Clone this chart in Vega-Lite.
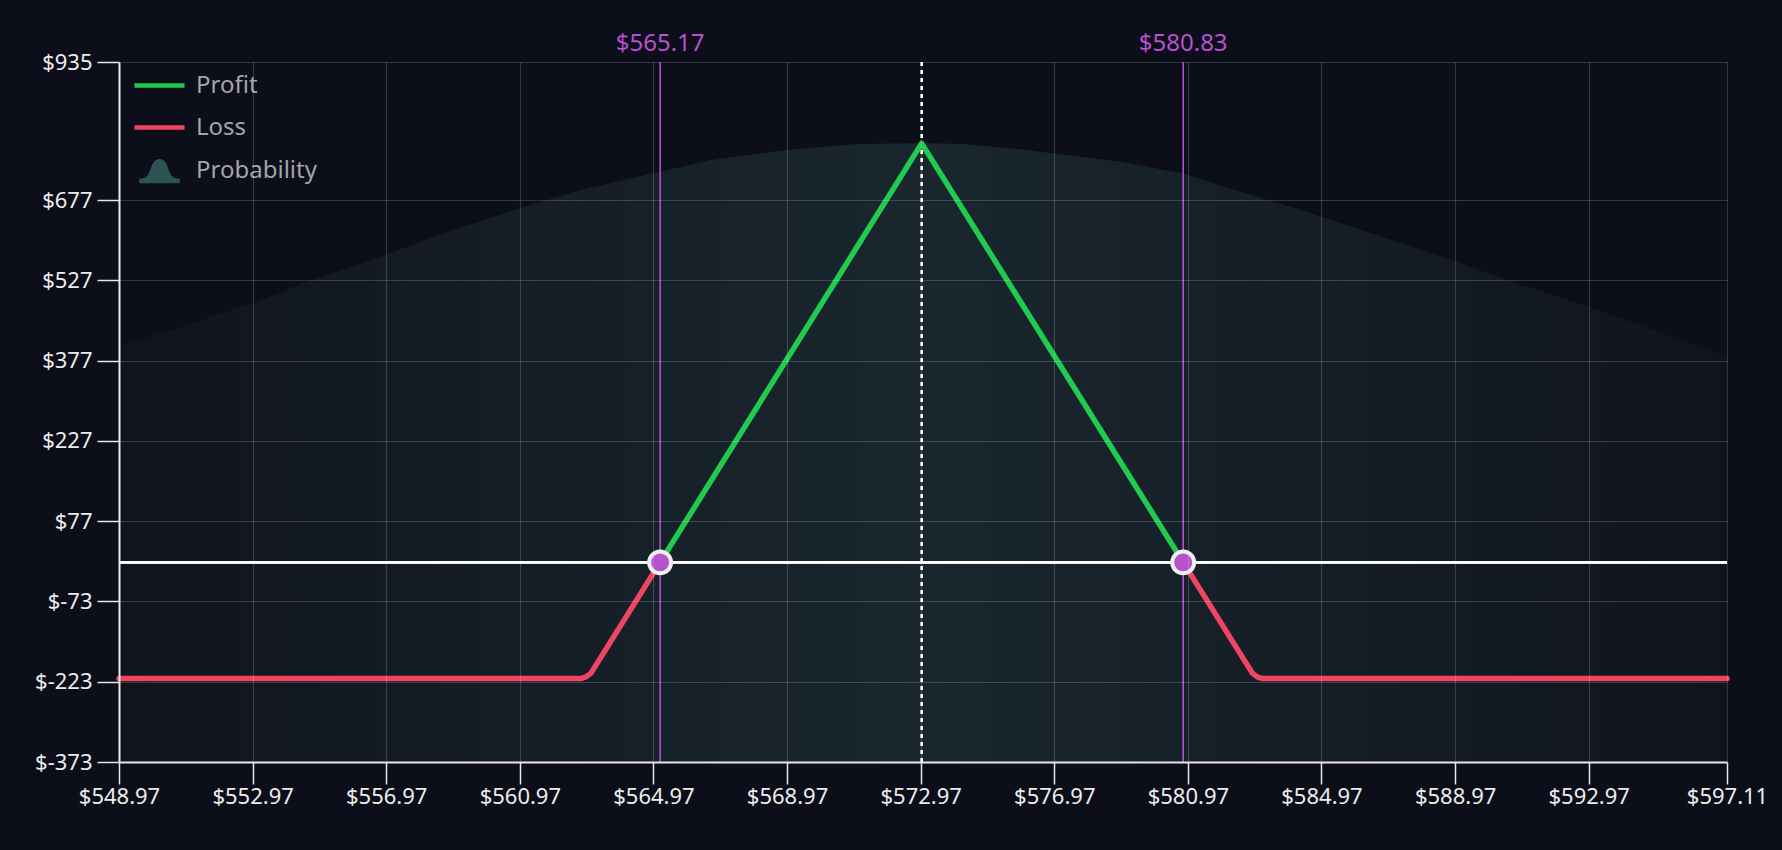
{
  "$schema": "https://vega.github.io/schema/vega-lite/v6.json",
  "width": 1608,
  "height": 700,
  "autosize": {"type": "none"},
  "padding": {"left": 119, "top": 62, "right": 55, "bottom": 88},
  "background": "#0c0e19",
  "config": {"view": {"stroke": null}, "font": "Noto Sans"},
  "datasets": {
    "prob": [
      {"price": 548.97, "prob": 403},
      {"price": 550.89, "prob": 441},
      {"price": 552.98, "prob": 484},
      {"price": 554.65, "prob": 526},
      {"price": 556.97, "prob": 575},
      {"price": 558.88, "prob": 619},
      {"price": 560.98, "prob": 662},
      {"price": 562.79, "prob": 696},
      {"price": 565.17, "prob": 730},
      {"price": 566.71, "prob": 752},
      {"price": 568.98, "prob": 771},
      {"price": 571.09, "prob": 782},
      {"price": 573.01, "prob": 783},
      {"price": 574.21, "prob": 782},
      {"price": 576.09, "prob": 771},
      {"price": 576.95, "prob": 764},
      {"price": 578.9, "prob": 749},
      {"price": 580.8, "prob": 727},
      {"price": 582.37, "prob": 696},
      {"price": 584.98, "prob": 646},
      {"price": 586.75, "prob": 609},
      {"price": 588.99, "prob": 562},
      {"price": 590.82, "prob": 521},
      {"price": 592.96, "prob": 478},
      {"price": 594.89, "prob": 434},
      {"price": 597.11, "prob": 384}
    ],
    "payoff": [
      {"price": 548.97, "pnl": -217, "series": "Loss", "seg": "a"},
      {"price": 562.8, "pnl": -217, "series": "Loss", "seg": "a"},
      {"price": 562.95, "pnl": -214, "series": "Loss", "seg": "a"},
      {"price": 563.1, "pnl": -207, "series": "Loss", "seg": "a"},
      {"price": 565.17, "pnl": 0, "series": "Loss", "seg": "a"},
      {"price": 565.17, "pnl": 0, "series": "Profit", "seg": "b"},
      {"price": 573.0, "pnl": 783, "series": "Profit", "seg": "b"},
      {"price": 580.83, "pnl": 0, "series": "Profit", "seg": "b"},
      {"price": 580.83, "pnl": 0, "series": "Loss", "seg": "c"},
      {"price": 582.9, "pnl": -207, "series": "Loss", "seg": "c"},
      {"price": 583.05, "pnl": -214, "series": "Loss", "seg": "c"},
      {"price": 583.2, "pnl": -217, "series": "Loss", "seg": "c"},
      {"price": 597.11, "pnl": -217, "series": "Loss", "seg": "c"}
    ],
    "breakeven": [
      {"price": 565.17, "pnl": 0, "label": "$565.17"},
      {"price": 580.83, "pnl": 0, "label": "$580.83"}
    ],
    "current": [
      {"price": 573.0}
    ]
  },
  "layer": [
    {
      "data": {"name": "prob"},
      "mark": {
        "type": "area",
        "interpolate": "linear",
        "color": {
          "gradient": "linear",
          "x1": 0, "x2": 1, "y1": 0, "y2": 0,
          "stops": [
            {"offset": 0, "color": "#10141d"},
            {"offset": 0.3, "color": "#161f27"},
            {"offset": 0.5, "color": "#1a272f"},
            {"offset": 0.7, "color": "#161f27"},
            {"offset": 1, "color": "#10141d"}
          ]
        }
      },
      "encoding": {
        "x": {
          "field": "price",
          "type": "quantitative",
          "title": null,
          "scale": {"domain": [548.97, 597.11], "nice": false, "zero": false},
          "axis": {
            "values": [548.97, 552.97, 556.97, 560.97, 564.97, 568.97, 572.97, 576.97, 580.97, 584.97, 588.97, 592.97, 597.11],
            "labelExpr": "'$' + format(datum.value, '.2f')",
            "labelFont": "Noto Sans",
            "labelFontSize": 22,
            "labelColor": "#ececec",
            "labelPadding": 2,
            "labelFlush": false,
            "labelOverlap": false,
            "domainColor": "#e8e8e8",
            "domainWidth": 2,
            "tickColor": "#e8e8e8",
            "tickSize": 22,
            "tickWidth": 1.5,
            "grid": true,
            "gridColor": "#ffffff",
            "gridOpacity": 0.17,
            "gridWidth": 1.2,
            "zindex": 1
          }
        },
        "y": {
          "field": "prob",
          "type": "quantitative",
          "title": null,
          "scale": {"domain": [-373, 935], "nice": false, "zero": false},
          "axis": {
            "values": [-373, -223, -73, 77, 227, 377, 527, 677, 935],
            "labelExpr": "'$' + datum.value",
            "labelFont": "Noto Sans",
            "labelFontSize": 22,
            "labelColor": "#ececec",
            "labelPadding": 5,
            "labelFlush": false,
            "labelOverlap": false,
            "domainColor": "#e8e8e8",
            "domainWidth": 2,
            "tickColor": "#e8e8e8",
            "tickSize": 22,
            "tickWidth": 1.5,
            "grid": true,
            "gridColor": "#ffffff",
            "gridOpacity": 0.17,
            "gridWidth": 1.2,
            "zindex": 1
          }
        },
        "y2": {"datum": -373}
      }
    },
    {
      "data": {"name": "breakeven"},
      "mark": {"type": "rule", "color": "#b350d2", "strokeWidth": 1.6},
      "encoding": {
        "x": {"field": "price", "type": "quantitative", "title": null}
      }
    },
    {
      "data": {"name": "breakeven"},
      "mark": {"type": "text", "color": "#b851d2", "fontSize": 24, "font": "Noto Sans", "baseline": "middle", "align": "center", "dy": -18},
      "encoding": {
        "x": {"field": "price", "type": "quantitative", "title": null},
        "y": {"datum": 935},
        "text": {"field": "label"}
      }
    },
    {
      "data": {"name": "breakeven"},
      "mark": {"type": "rule", "color": "#ffffff", "strokeWidth": 2.8},
      "encoding": {
        "y": {"datum": 0}
      }
    },
    {
      "data": {"name": "current"},
      "mark": {"type": "rule", "color": "#ffffff", "strokeWidth": 2.6, "strokeDash": [4, 4]},
      "encoding": {
        "x": {"field": "price", "type": "quantitative", "title": null}
      }
    },
    {
      "data": {"name": "payoff"},
      "mark": {"type": "line", "strokeWidth": 5.5, "strokeCap": "round", "strokeJoin": "round"},
      "encoding": {
        "x": {"field": "price", "type": "quantitative", "title": null},
        "y": {"field": "pnl", "type": "quantitative", "title": null},
        "detail": {"field": "seg"},
        "color": {
          "field": "series",
          "type": "nominal",
          "scale": {"domain": ["Profit", "Loss", "Probability"], "range": ["#20cb4f", "#ef4563", "#2e5355"]},
          "legend": {
            "title": null,
            "orient": "none",
            "legendX": 23,
            "legendY": 6,
            "padding": 0,
            "labelFont": "Noto Sans",
            "labelFontSize": 24,
            "labelColor": "#a3a4ad",
            "labelOffset": 19,
            "symbolSize": 900,
            "symbolStrokeWidth": 4.5,
            "rowPadding": 12,
            "encode": {
              "symbols": {
                "update": {
                  "shape": {"signal": "datum.value === 'Probability' ? 'M-1.35,0.7C-0.8,0.7 -0.6,0.45 -0.4,-0.2C-0.22,-0.75 0.22,-0.75 0.4,-0.2C0.6,0.45 0.8,0.7 1.35,0.7Z' : 'M-1.67,0L1.67,0'"},
                  "fill": {"signal": "datum.value === 'Probability' ? '#2e5355' : 'transparent'"},
                  "stroke": {"signal": "datum.value === 'Probability' ? 'transparent' : (datum.value === 'Profit' ? '#20cb4f' : '#ef4563')"},
                  "strokeWidth": {"value": 4.5},
                  "opacity": {"value": 1}
                }
              }
            }
          }
        }
      }
    },
    {
      "data": {"name": "breakeven"},
      "mark": {"type": "point", "filled": true, "size": 480, "color": "#b552cc", "stroke": "#eeeeee", "strokeWidth": 4, "opacity": 1},
      "encoding": {
        "x": {"field": "price", "type": "quantitative", "title": null},
        "y": {"field": "pnl", "type": "quantitative", "title": null}
      }
    }
  ]
}
